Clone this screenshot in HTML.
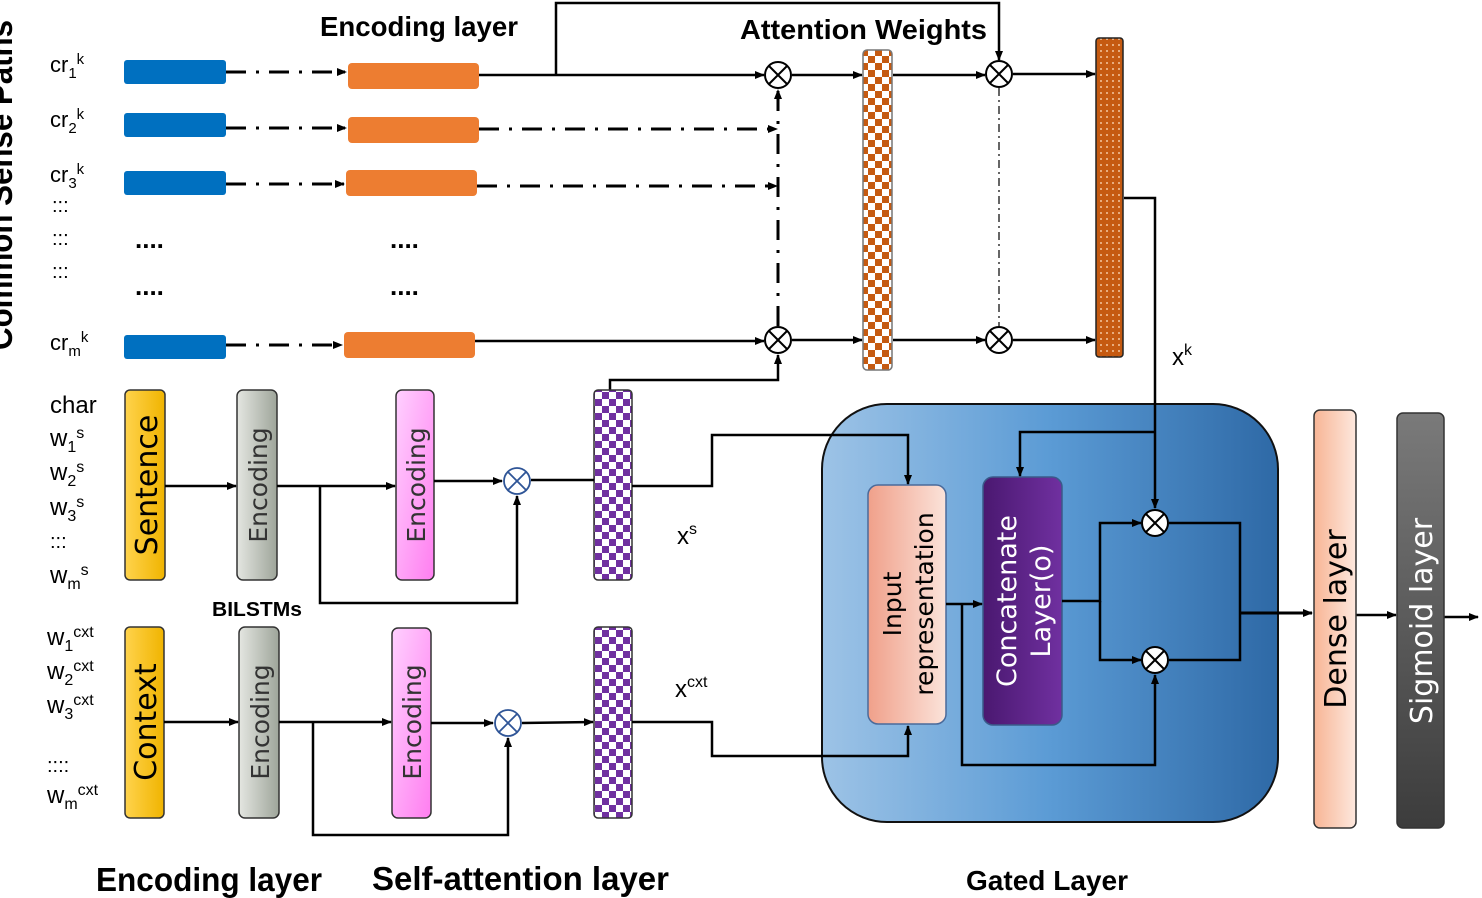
<!DOCTYPE html>
<html><head><meta charset="utf-8"><style>
html,body{margin:0;padding:0;background:#fff;}
svg{display:block;font-family:"Liberation Sans",sans-serif;}
.b{font-family:"Liberation Sans",sans-serif;font-weight:bold;}
.v{font-family:"DejaVu Sans","Liberation Sans",sans-serif;}
</style></head><body>
<svg width="1482" height="898" viewBox="0 0 1482 898" xmlns="http://www.w3.org/2000/svg">
<defs>
<marker id="a" markerWidth="10" markerHeight="8" refX="9" refY="4" orient="auto" markerUnits="userSpaceOnUse"><path d="M0,0 L10,4 L0,8 z" fill="#000"/></marker>
<pattern id="pc" width="14" height="14" patternUnits="userSpaceOnUse"><rect width="14" height="14" fill="#fff"/><rect width="7" height="7" fill="#7030a0"/><rect x="7" y="7" width="7" height="7" fill="#7030a0"/></pattern>
<pattern id="oc" width="14" height="14" patternUnits="userSpaceOnUse"><rect width="14" height="14" fill="#fff"/><rect width="7" height="7" fill="#c55a11"/><rect x="7" y="7" width="7" height="7" fill="#c55a11"/></pattern>
<pattern id="od" width="6" height="6" patternUnits="userSpaceOnUse"><rect width="6" height="6" fill="#c55a11"/><circle cx="3" cy="3" r="1" fill="#f4c7a0"/></pattern>
<linearGradient id="gb" x1="0" x2="1"><stop offset="0" stop-color="#9dc3e6"/><stop offset="0.5" stop-color="#5b9bd5"/><stop offset="1" stop-color="#2e69a6"/></linearGradient>
<linearGradient id="gs" x1="0" x2="1"><stop offset="0" stop-color="#f0a08a"/><stop offset="1" stop-color="#fbe3da"/></linearGradient>
<linearGradient id="gd" x1="0" x2="1"><stop offset="0" stop-color="#f8b595"/><stop offset="1" stop-color="#fde8de"/></linearGradient>
<linearGradient id="gp" x1="0" x2="1"><stop offset="0" stop-color="#4a1870"/><stop offset="1" stop-color="#7030a0"/></linearGradient>
<linearGradient id="gy" x1="0" x2="1"><stop offset="0" stop-color="#ffd34d"/><stop offset="1" stop-color="#f0b400"/></linearGradient>
<linearGradient id="gg" x1="0" x2="1"><stop offset="0" stop-color="#e4e6e1"/><stop offset="1" stop-color="#9ea59a"/></linearGradient>
<linearGradient id="gk" x1="0" x2="1" y1="0" y2="1"><stop offset="0" stop-color="#ffd0ff"/><stop offset="1" stop-color="#ff7ef0"/></linearGradient>
<linearGradient id="gsg" x1="0" x2="0" y1="0" y2="1"><stop offset="0" stop-color="#7a7a7a"/><stop offset="1" stop-color="#3c3c3c"/></linearGradient>
</defs>

<text class="b" x="0" y="0" font-size="34" text-anchor="middle" textLength="330" lengthAdjust="spacingAndGlyphs" transform="translate(12 185) rotate(-90)">Common Sense Paths</text>

<g font-size="22">
<text x="50" y="72">cr<tspan font-size="15" dy="6">1</tspan><tspan font-size="15" dy="-14">k</tspan></text>
<text x="50" y="127">cr<tspan font-size="15" dy="6">2</tspan><tspan font-size="15" dy="-14">k</tspan></text>
<text x="50" y="182">cr<tspan font-size="15" dy="6">3</tspan><tspan font-size="15" dy="-14">k</tspan></text>
<text x="50" y="350">cr<tspan font-size="15" dy="6">m</tspan><tspan font-size="15" dy="-14">k</tspan></text>
</g>
<g font-size="20">
<text x="52" y="212">:::</text><text x="52" y="245">:::</text><text x="52" y="278">:::</text>
</g>
<g font-size="26" font-weight="bold">
<text x="135" y="248">....</text><text x="135" y="295">....</text>
<text x="390" y="248">....</text><text x="390" y="295">....</text>
</g>

<text class="b" x="320" y="36" font-size="28" textLength="198" lengthAdjust="spacingAndGlyphs">Encoding layer</text>
<text class="b" x="740" y="39" font-size="28" textLength="247" lengthAdjust="spacingAndGlyphs">Attention Weights</text>

<g fill="#0070c0">
<rect x="124" y="60" width="102" height="24" rx="3"/>
<rect x="124" y="113" width="102" height="24" rx="3"/>
<rect x="124" y="171" width="102" height="24" rx="3"/>
<rect x="124" y="335" width="102" height="24" rx="3"/>
</g>
<g fill="#ed7d31">
<rect x="348" y="63" width="131" height="26" rx="4"/>
<rect x="348" y="117" width="131" height="26" rx="4"/>
<rect x="346" y="170" width="131" height="26" rx="4"/>
<rect x="344" y="332" width="131" height="26" rx="4"/>
</g>
<g stroke="#000" stroke-width="3" fill="none" stroke-dasharray="20,10,3,10">
<line x1="226" y1="72" x2="346" y2="72" marker-end="url(#a)"/>
<line x1="226" y1="128" x2="346" y2="128" marker-end="url(#a)"/>
<line x1="226" y1="184" x2="344" y2="184" marker-end="url(#a)"/>
<line x1="226" y1="345" x2="342" y2="345" marker-end="url(#a)"/>
<line x1="479" y1="129" x2="777" y2="129" marker-end="url(#a)"/>
<line x1="477" y1="186" x2="777" y2="186" marker-end="url(#a)"/>
<line x1="778" y1="326" x2="778" y2="90" marker-end="url(#a)"/>
</g>
<line x1="999" y1="88" x2="999" y2="326" stroke="#000" stroke-width="1.2" stroke-dasharray="8,4,2,4"/>

<g stroke="#000" stroke-width="2.5" fill="none">
<line x1="479" y1="75" x2="764" y2="75" marker-end="url(#a)"/>
<polyline points="556,75 556,3 999,3 999,60" marker-end="url(#a)"/>
<line x1="475" y1="341" x2="764" y2="341" marker-end="url(#a)"/>
<line x1="792" y1="75" x2="862" y2="75" marker-end="url(#a)"/>
<line x1="792" y1="340" x2="862" y2="340" marker-end="url(#a)"/>
<line x1="893" y1="75" x2="985" y2="75" marker-end="url(#a)"/>
<line x1="893" y1="340" x2="985" y2="340" marker-end="url(#a)"/>
<line x1="1013" y1="74" x2="1095" y2="74" marker-end="url(#a)"/>
<line x1="1013" y1="340" x2="1095" y2="340" marker-end="url(#a)"/>
<polyline points="610,390 610,380 778,380 778,355" marker-end="url(#a)"/>
</g>

<rect x="863" y="50" width="29" height="320" rx="4" fill="url(#oc)" stroke="#777" stroke-width="1.5"/>
<rect x="1096" y="38" width="27" height="319" rx="3" fill="url(#od)" stroke="#222" stroke-width="1.5"/>
<text x="1172" y="365" font-size="24">x<tspan font-size="16" dy="-10">k</tspan></text>

<rect x="822" y="404" width="456" height="418" rx="65" fill="url(#gb)" stroke="#111" stroke-width="2"/>
<rect x="868" y="485" width="78" height="239" rx="10" fill="url(#gs)" stroke="#4a6a9a" stroke-width="1.5"/>
<text class="v" font-size="25" text-anchor="middle" transform="translate(907 604) rotate(-90)"><tspan x="0" y="-6">Input</tspan><tspan x="0" y="26">representation</tspan></text>
<rect x="983" y="477" width="79" height="248" rx="10" fill="url(#gp)" stroke="#3a5a8a" stroke-width="1.5"/>
<text class="v" font-size="27" fill="#fff" text-anchor="middle" transform="translate(1022 601) rotate(-90)"><tspan x="0" y="-6">Concatenate</tspan><tspan x="0" y="28">Layer(o)</tspan></text>

<g stroke="#000" stroke-width="2.5" fill="none">
<polyline points="1124,198 1155,198 1155,508" marker-end="url(#a)"/>
<polyline points="1155,432 1020,432 1020,476" marker-end="url(#a)"/>
<line x1="946" y1="604" x2="982" y2="604" marker-end="url(#a)"/>
<polyline points="962,604 962,765 1155,765 1155,675" marker-end="url(#a)"/>
<polyline points="1062,601 1100,601 1100,523 1141,523" marker-end="url(#a)"/>
<polyline points="1100,601 1100,660 1141,660" marker-end="url(#a)"/>
<polyline points="1169,523 1240,523 1240,660 1169,660"/>
<line x1="1240" y1="613" x2="1312" y2="613" stroke-width="3" marker-end="url(#a)"/>
<line x1="1356" y1="615" x2="1396" y2="615" marker-end="url(#a)"/>
<line x1="1444" y1="617" x2="1478" y2="617" marker-end="url(#a)"/>
</g>

<rect x="1314" y="410" width="42" height="418" rx="6" fill="url(#gd)" stroke="#333" stroke-width="1.5"/>
<text class="v" font-size="30" text-anchor="middle" transform="translate(1346 619) rotate(-90)">Dense layer</text>
<rect x="1397" y="413" width="47" height="415" rx="6" fill="url(#gsg)" stroke="#333" stroke-width="1.5"/>
<text class="v" font-size="30" fill="#fff" text-anchor="middle" transform="translate(1432 621) rotate(-90)">Sigmoid layer</text>

<g font-size="24">
<text x="50" y="413">char</text>
<text x="50" y="446">w<tspan font-size="16" dy="6">1</tspan><tspan font-size="16" dy="-14">s</tspan></text>
<text x="50" y="480">w<tspan font-size="16" dy="6">2</tspan><tspan font-size="16" dy="-14">s</tspan></text>
<text x="50" y="515">w<tspan font-size="16" dy="6">3</tspan><tspan font-size="16" dy="-14">s</tspan></text>
<text x="50" y="548" font-size="20">:::</text>
<text x="50" y="583">w<tspan font-size="16" dy="6">m</tspan><tspan font-size="16" dy="-14">s</tspan></text>
<text x="47" y="645">w<tspan font-size="16" dy="6">1</tspan><tspan font-size="16" dy="-14">cxt</tspan></text>
<text x="47" y="679">w<tspan font-size="16" dy="6">2</tspan><tspan font-size="16" dy="-14">cxt</tspan></text>
<text x="47" y="713">w<tspan font-size="16" dy="6">3</tspan><tspan font-size="16" dy="-14">cxt</tspan></text>
<text x="47" y="772" font-size="20">::::</text>
<text x="47" y="803">w<tspan font-size="16" dy="6">m</tspan><tspan font-size="16" dy="-14">cxt</tspan></text>
</g>

<rect x="125" y="390" width="40" height="190" rx="5" fill="url(#gy)" stroke="#333" stroke-width="1.5"/>
<text class="v" font-size="30" text-anchor="middle" transform="translate(157 485) rotate(-90)">Sentence</text>
<rect x="237" y="390" width="40" height="190" rx="6" fill="url(#gg)" stroke="#333" stroke-width="1.5"/>
<text class="v" font-size="25" fill="#333" text-anchor="middle" transform="translate(267 485) rotate(-90)">Encoding</text>
<rect x="396" y="390" width="38" height="190" rx="6" fill="url(#gk)" stroke="#333" stroke-width="1.5"/>
<text class="v" font-size="25" fill="#333" text-anchor="middle" transform="translate(425 485) rotate(-90)">Encoding</text>
<rect x="594" y="390" width="38" height="190" rx="4" fill="url(#pc)" stroke="#333" stroke-width="1.5"/>

<rect x="125" y="627" width="39" height="191" rx="5" fill="url(#gy)" stroke="#333" stroke-width="1.5"/>
<text class="v" font-size="30" text-anchor="middle" transform="translate(156 722) rotate(-90)">Context</text>
<rect x="239" y="627" width="40" height="191" rx="6" fill="url(#gg)" stroke="#333" stroke-width="1.5"/>
<text class="v" font-size="25" fill="#333" text-anchor="middle" transform="translate(269 722) rotate(-90)">Encoding</text>
<rect x="392" y="628" width="39" height="190" rx="6" fill="url(#gk)" stroke="#333" stroke-width="1.5"/>
<text class="v" font-size="25" fill="#333" text-anchor="middle" transform="translate(421 722) rotate(-90)">Encoding</text>
<rect x="594" y="627" width="38" height="191" rx="4" fill="url(#pc)" stroke="#333" stroke-width="1.5"/>

<text class="b" x="212" y="616" font-size="20" textLength="90" lengthAdjust="spacingAndGlyphs">BILSTMs</text>

<g stroke="#000" stroke-width="2.5" fill="none">
<line x1="165" y1="486" x2="236" y2="486" marker-end="url(#a)"/>
<line x1="277" y1="486" x2="395" y2="486" marker-end="url(#a)"/>
<polyline points="320,486 320,603 517,603 517,496" marker-end="url(#a)"/>
<line x1="434" y1="481" x2="502" y2="481" marker-end="url(#a)"/>
<line x1="531" y1="480" x2="594" y2="480"/>
<polyline points="632,486 712,486 712,435 908,435 908,484" marker-end="url(#a)"/>
<line x1="164" y1="722" x2="238" y2="722" marker-end="url(#a)"/>
<line x1="279" y1="722" x2="391" y2="722" marker-end="url(#a)"/>
<polyline points="313,722 313,835 508,835 508,738" marker-end="url(#a)"/>
<line x1="431" y1="723" x2="493" y2="723" marker-end="url(#a)"/>
<line x1="522" y1="723" x2="593" y2="722" marker-end="url(#a)"/>
<polyline points="632,722 712,722 712,756 908,756 908,726" marker-end="url(#a)"/>
</g>

<text x="677" y="544" font-size="24">x<tspan font-size="16" dy="-10">s</tspan></text>
<text x="675" y="697" font-size="24">x<tspan font-size="16" dy="-10">cxt</tspan></text>

<g fill="#fff" stroke="#000" stroke-width="2">
<g transform="translate(778 75)"><circle r="13"/><path d="M-9,-9 L9,9 M9,-9 L-9,9"/></g>
<g transform="translate(778 340)"><circle r="13"/><path d="M-9,-9 L9,9 M9,-9 L-9,9"/></g>
<g transform="translate(999 74)"><circle r="13"/><path d="M-9,-9 L9,9 M9,-9 L-9,9"/></g>
<g transform="translate(999 340)"><circle r="13"/><path d="M-9,-9 L9,9 M9,-9 L-9,9"/></g>
<g transform="translate(1155 523)"><circle r="13"/><path d="M-9,-9 L9,9 M9,-9 L-9,9"/></g>
<g transform="translate(1155 660)"><circle r="13"/><path d="M-9,-9 L9,9 M9,-9 L-9,9"/></g>
</g>
<g fill="#fff" stroke="#2f5597" stroke-width="1.8">
<g transform="translate(517 481)"><circle r="13"/><path d="M-9,-9 L9,9 M9,-9 L-9,9"/></g>
<g transform="translate(508 723)"><circle r="13"/><path d="M-9,-9 L9,9 M9,-9 L-9,9"/></g>
</g>

<text class="b" x="96" y="891" font-size="33" textLength="226" lengthAdjust="spacingAndGlyphs">Encoding layer</text>
<text class="b" x="372" y="890" font-size="33" textLength="297" lengthAdjust="spacingAndGlyphs">Self-attention layer</text>
<text class="b" x="966" y="890" font-size="28" textLength="162" lengthAdjust="spacingAndGlyphs">Gated Layer</text>
</svg>
</body></html>
